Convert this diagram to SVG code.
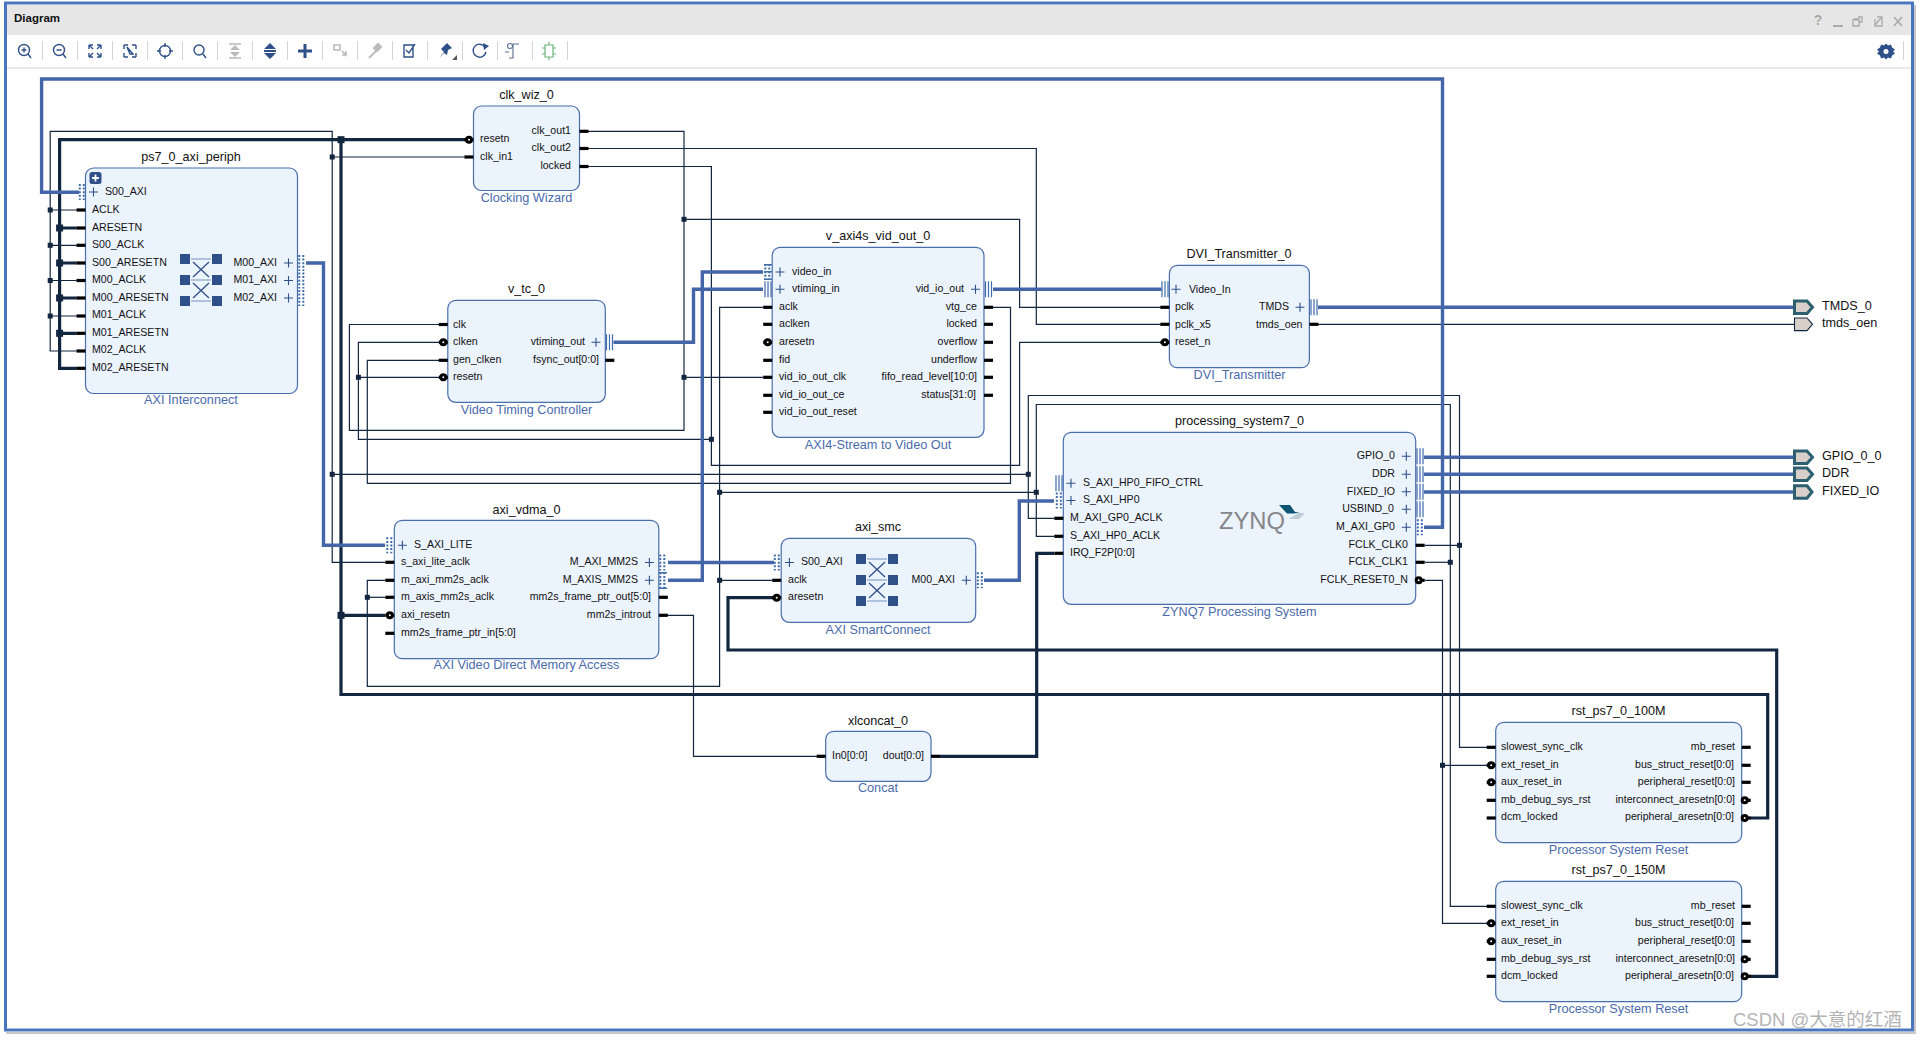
<svg xmlns="http://www.w3.org/2000/svg" width="1920" height="1040" viewBox="0 0 1920 1040">
<style>
text{font-family:"Liberation Sans",Arial,sans-serif;fill:#111;transform:translateY(-0.6px)}
.l{font-size:10.6px}
.r{font-size:10.6px;text-anchor:end}
.t{font-size:12.6px;text-anchor:middle}
.s{font-size:12.7px;text-anchor:middle;fill:#4a6bad}
.e{font-size:12.6px}
.blk{fill:#ebf3fd;stroke:#4a6eac;stroke-width:1.2}
.w{fill:none;stroke:#12263f;stroke-width:1.2}
.k{fill:none;stroke:#12263f;stroke-width:3.2}
.b{fill:none;stroke:#4465a8;stroke-width:3.4}
.j{fill:#12263f}
.x{fill:#2f5089}
.xl{fill:none;stroke:#2f5089;stroke-width:1.3}
.xb{fill:none;stroke:#9db4d4;stroke-width:1.3}
.ic{fill:none;stroke:#2f5089;stroke-width:1.4}
.ig{fill:none;stroke:#bbb;stroke-width:1.6}
.sep{stroke:#d4d4d4;stroke-width:1}
.tm{fill:#d8d0c8;stroke:#2c5f70;stroke-width:3}
.tn{fill:#d8d0c8;stroke:#12263f;stroke-width:1.1}
</style>
<defs>
<rect id="pl" x="-9" y="-1.6" width="9" height="3.2" fill="#000"/>
<rect id="pr" x="0" y="-1.6" width="9" height="3.2" fill="#000"/>
<g id="bl"><rect x="-9" y="-1.6" width="9" height="3.2" fill="#000"/><circle cx="-4.5" cy="0" r="4" fill="#000"/><circle cx="-4.5" cy="0" r="1" fill="#fff"/></g>
<g id="br"><rect x="0" y="-1.6" width="9" height="3.2" fill="#000"/><circle cx="3" cy="0" r="4" fill="#000"/><circle cx="3" cy="0" r="1" fill="#fff"/></g>
<path id="plus" d="M-4.5 0H4.5M0-4.5V4.5" fill="none" stroke="#2f5089" stroke-width="1.1"/>
<path id="ms" d="M0-8V8M3-8V8M6-8V8" fill="none" stroke="#3f6cab" stroke-width="1.2"/>
<path id="md" d="M0.8-8V8M4.8-8V8" fill="none" stroke="#3f6cab" stroke-width="2" stroke-dasharray="2 1.6"/>
<rect id="js" x="-2.5" y="-2.5" width="5" height="5" class="j"/>
<rect id="jk" x="-3.5" y="-3.5" width="7" height="7" class="j"/>
<g id="xbar">
<rect x="0" y="0" width="10" height="10" class="x"/><rect x="32" y="0" width="10" height="10" class="x"/>
<rect x="0" y="21" width="10" height="10" class="x"/><rect x="32" y="21" width="10" height="10" class="x"/>
<rect x="0" y="42" width="10" height="10" class="x"/><rect x="32" y="42" width="10" height="10" class="x"/>
<path d="M11 5H31M11 26H31M11 47H31" class="xb"/>
<path d="M13 8L29 23M29 8L13 23M13 29L29 44M29 29L13 44" class="xl"/>
</g>
</defs>

<rect x="0" y="0" width="1920" height="1040" fill="#fff"/>
<rect x="5.5" y="3" width="1907" height="1027" fill="#fff" stroke="#4a76c0" stroke-width="3"/>
<path d="M1915 5V1033H6" fill="none" stroke="#c8c8c8" stroke-width="2"/>
<rect x="7" y="5" width="1904" height="30" fill="#e6e6e6"/>
<rect x="7" y="67" width="1904" height="2" fill="#e8e8e8"/>
<text x="14" y="23" style="font-size:11.5px;font-weight:700">Diagram</text>

<g id="titlebar-icons">
<text x="1818" y="26" style="font-size:14px;font-weight:700;fill:#aaa;text-anchor:middle">?</text>
<path d="M1833 26H1843" fill="none" stroke="#aaa" stroke-width="2"/>
<path d="M1854 19H1859V24M1858 17H1862V22H1859M1853 19.500V26H1859V20Z" fill="none" stroke="#aaa" stroke-width="1.3"/>
<path d="M1875 19V26H1882V17H1877M1875 25L1881 18" fill="none" stroke="#aaa" stroke-width="1.3"/>
<path d="M1894 17L1902 26M1902 17L1894 26" fill="none" stroke="#aaa" stroke-width="1.6"/>
</g>
<g id="toolbar">
<path class="sep" d="M42.500 41V60M77.500 41V60M112.500 41V60M147.500 41V60M182.500 41V60M217.500 41V60M252.500 41V60M287.500 41V60M322.500 41V60M357.500 41V60M392.500 41V60M427.500 41V60M462.500 41V60M497.500 41V60M532.500 41V60M567.500 41V60M1903.500 41V60"/>
<circle cx="24" cy="50" r="5.5" class="ic"/><path class="ic" d="M28 54L31 58M21.500 50H26.500M24 47.500V52.500"/>
<circle cx="59" cy="50" r="5.500" class="ic"/><path class="ic" d="M63 54L66 58M56.500 50H61.500"/>
<path class="ic" d="M89 45H93M89 45V49M101 45H97M101 45V49M89 57H93M89 57V53M101 57H97M101 57V53M90 46L93 49M100 46L97 49M90 56L93 53M100 56L97 53"/>
<path class="ic" d="M124 45H128M124 45V49M136 45H132M136 45V49M124 57H128M124 57V53M136 57H132M136 57V53M127 47L133 54L130 54Z"/>
<circle cx="165" cy="51" r="5.5" class="ic"/><path class="ic" d="M165 43V47M165 55V59M157 51H161M169 51H173"/>
<circle cx="199" cy="50" r="5" class="ic" stroke-width="2"/><path class="ic" d="M203 54L206 58" stroke-width="2"/>
<path class="ig" d="M229 44H241M229 58H241"/><path d="M235 45L240 50H230ZM235 57L240 52H230Z" fill="#bbb"/>
<path d="M270 43L276 49H264ZM270 59L276 53H264Z" class="x"/><rect x="264" y="50" width="12" height="2" class="x"/>
<path d="M305 44V58M298 51H312" fill="none" stroke="#2f5089" stroke-width="3"/>
<path class="ig" d="M334 45H340V50H334ZM342 51L346 55V51M342 55H346"/>
<path d="M369 58L376 51M374 48L378 44L381 47L377 51Z" fill="#bbb" stroke="#bbb" stroke-width="2"/>
<path class="ic" d="M404 45H413V57H404ZM406 50L409 53L415 44" stroke-width="1.8"/>
<path d="M439 58L444 52L441 49L447 43L452 48L448 50L447 55L444 53Z" class="x"/><path d="M452 60H457V55Z" fill="#555"/>
<path class="ic" d="M485 47A6.500 6.500 0 1 0 486 52" stroke-width="2"/><path d="M483 43L489 46L484 50Z" class="x"/>
<circle cx="510" cy="46" r="2.500" fill="none" stroke="#5a6f90" stroke-width="1.1"/><path fill="none" stroke="#5a6f90" stroke-width="1.1" d="M509 58H513V44H519M505 52H509"/>
<path d="M545 45H553V57H545ZM549 42V45M549 57V60M542 48H545M542 54H545M553 48H556M553 54H556" fill="none" stroke="#6cb47a" stroke-width="1.2"/>
<path d="M1886 44L1888 46L1891 45L1892 48L1895 50L1893 52L1895 54L1892 56L1891 59L1888 58L1886 60L1884 58L1881 59L1880 56L1877 54L1879 52L1877 50L1880 48L1881 45L1884 46Z" class="x" transform="translate(0,-0.500)"/><circle cx="1886" cy="51.500" r="2.500" fill="#fff"/>
</g>

<g id="connectors">
<path class="w" d="M588 131.300H684V430.300H349.400V324.500H439"/>
<path class="w" d="M684 219.300H1019.600V307.300H1161"/>
<path class="w" d="M684 377.300H763"/>
<path class="w" d="M588 148.500H1036.300V324.300H1161"/>
<path class="w" d="M588 166.500H711.400V465.300H1019.600V342.300H1161"/>
<path class="w" d="M711.400 439.300H358.400V342.300H439"/>
<path class="w" d="M358.400 377.300H439"/>
<path class="w" d="M993 307.300H1010.500V483.300H367.300V360.300H439"/>
<path class="w" d="M76.700 351H50.200V131.300H332.200V562.300H385"/>
<path class="w" d="M50.200 210H76.700M50.200 245.300H76.700M50.200 280.500H76.700M50.200 316H76.700"/>
<path class="w" d="M332.200 157H465"/>
<path class="w" d="M332.200 474.300H1028.300"/>
<path class="w" d="M1054 518.300H1028.300V395.500H1459.500V747.300H1487"/>
<path class="w" d="M1425 545.300H1459.500"/>
<path class="w" d="M1054 536.300H1036.300V404.500H1450.300V906.300H1487"/>
<path class="w" d="M1425 562.300H1450.300"/>
<path class="w" d="M1036.300 492.300H719.600"/>
<path class="w" d="M763 307.300H719.600V686.300H367.300V580.300H385"/>
<path class="w" d="M719.600 580.300H772"/>
<path class="w" d="M367.300 597.300H385"/>
<path class="w" d="M667 615.300H693.500V756.300H817"/>
<path class="w" d="M1425 580.300H1442.500V923.300H1487"/>
<path class="w" d="M1442.500 765.300H1487"/>
<path class="w" d="M1318 324.300H1794"/>
<path class="k" d="M1750 818H1767.700V694.500H341V139.700H466"/>
<path class="k" d="M341 139.700H59.600V368.300H76.700"/>
<path class="k" d="M59.600 228H76.700M59.600 263H76.700M59.600 298H76.700M59.600 333.300H76.700"/>
<path class="k" d="M341 615.300H385"/>
<path class="k" d="M1750 976.300H1776.700V650H728V597.700H773"/>
<path class="k" d="M940 756.300H1036.700V553.300H1054"/>
<path class="b" d="M1424 527.300H1442.500V79H41.600V192.300H79"/>
<path class="b" d="M306 263H323.500V545.300H385"/>
<path class="b" d="M613.500 342.300H693.500V289.300H763"/>
<path class="b" d="M668 580.300H702.300V272H763"/>
<path class="b" d="M668 562.500H774"/>
<path class="b" d="M993 289.300H1161.600"/>
<path class="b" d="M984 580.300H1019.300V501H1054"/>
<path class="b" d="M1318 307.300H1793"/>
<path class="b" d="M1424 457.300H1793"/>
<path class="b" d="M1424 474.300H1793"/>
<path class="b" d="M1424 492H1793"/>
<use href="#js" x="684" y="219.300"/><use href="#js" x="684" y="377.300"/>
<use href="#js" x="711.400" y="439.300"/><use href="#js" x="358.400" y="377.300"/>
<use href="#js" x="50.200" y="210"/><use href="#js" x="50.200" y="245.300"/><use href="#js" x="50.200" y="280.500"/><use href="#js" x="50.200" y="316"/>
<use href="#js" x="332.200" y="157"/><use href="#js" x="332.200" y="474.300"/>
<use href="#js" x="1028.300" y="474.300"/><use href="#js" x="1036.300" y="492.300"/>
<use href="#js" x="719.600" y="492.300"/><use href="#js" x="719.600" y="580.300"/><use href="#js" x="367.300" y="597.300"/>
<use href="#js" x="1459.500" y="545.300"/><use href="#js" x="1450.300" y="562.300"/><use href="#js" x="1442.500" y="765.300"/>
<use href="#jk" x="341" y="139.700"/><use href="#jk" x="59.600" y="228"/><use href="#jk" x="59.600" y="263"/><use href="#jk" x="59.600" y="298"/><use href="#jk" x="59.600" y="333.300"/><use href="#jk" x="341" y="615.300"/>
</g>

<g id="ps7_0_axi_periph">
<rect class="blk" x="85.500" y="168" width="212" height="225.500" rx="8"/>
<text class="t" x="191" y="162">ps7_0_axi_periph</text>
<text class="s" x="191" y="404.500">AXI Interconnect</text>
<rect x="89.500" y="172" width="12" height="12" rx="2.500" fill="#2f5089"/><path d="M95.500 174.500V181.500M92 178H99" stroke="#fff" stroke-width="1.800"/>
<use href="#md" x="79" y="192"/><use href="#plus" x="93.500" y="192"/>
<use href="#pl" x="85.500" y="210"/><use href="#pl" x="85.500" y="228"/><use href="#pl" x="85.500" y="245.300"/><use href="#pl" x="85.500" y="263"/><use href="#pl" x="85.500" y="280.500"/><use href="#pl" x="85.500" y="298"/><use href="#pl" x="85.500" y="316"/><use href="#pl" x="85.500" y="333.300"/><use href="#pl" x="85.500" y="351"/><use href="#pl" x="85.500" y="368.300"/>
<text class="l" x="105" y="196">S00_AXI</text>
<text class="l" x="92" y="214">ACLK</text>
<text class="l" x="92" y="231.500">ARESETN</text>
<text class="l" x="92" y="249">S00_ACLK</text>
<text class="l" x="92" y="266.500">S00_ARESETN</text>
<text class="l" x="92" y="284">M00_ACLK</text>
<text class="l" x="92" y="302">M00_ARESETN</text>
<text class="l" x="92" y="319">M01_ACLK</text>
<text class="l" x="92" y="337">M01_ARESETN</text>
<text class="l" x="92" y="354">M02_ACLK</text>
<text class="l" x="92" y="372">M02_ARESETN</text>
<use href="#xbar" x="180" y="254"/>
<text class="r" x="277" y="266.500">M00_AXI</text>
<text class="r" x="277" y="284">M01_AXI</text>
<text class="r" x="277" y="302">M02_AXI</text>
<use href="#plus" x="288.500" y="263"/><use href="#plus" x="288.500" y="280.500"/><use href="#plus" x="288.500" y="298"/>
<use href="#md" x="298.500" y="263"/><use href="#md" x="298.500" y="280.500"/><use href="#md" x="298.500" y="298"/>
</g>

<g id="clk_wiz_0">
<rect class="blk" x="473.500" y="106" width="106" height="84.500" rx="8"/>
<text class="t" x="526.500" y="100">clk_wiz_0</text>
<text class="s" x="526.500" y="203">Clocking Wizard</text>
<use href="#bl" x="473.500" y="139.700"/><use href="#pl" x="473.500" y="157"/>
<use href="#pr" x="579.500" y="131.300"/><use href="#pr" x="579.500" y="148.500"/><use href="#pr" x="579.500" y="166.500"/>
<text class="l" x="480" y="143">resetn</text>
<text class="l" x="480" y="161">clk_in1</text>
<text class="r" x="571" y="134.500">clk_out1</text>
<text class="r" x="571" y="152">clk_out2</text>
<text class="r" x="571" y="170">locked</text>
</g>

<g id="v_tc_0">
<rect class="blk" x="447.800" y="300.300" width="157.500" height="102" rx="8"/>
<text class="t" x="526.500" y="294">v_tc_0</text>
<text class="s" x="526.500" y="414.500">Video Timing Controller</text>
<use href="#pl" x="447.800" y="324.500"/><use href="#bl" x="447.800" y="342.300"/><use href="#pl" x="447.800" y="360.300"/><use href="#bl" x="447.800" y="377.300"/>
<text class="l" x="453" y="329">clk</text>
<text class="l" x="453" y="346">clken</text>
<text class="l" x="453" y="364">gen_clken</text>
<text class="l" x="453" y="381">resetn</text>
<text class="r" x="585" y="346">vtiming_out</text>
<text class="r" x="599" y="364">fsync_out[0:0]</text>
<use href="#plus" x="596" y="342.300"/>
<use href="#ms" x="606.500" y="342.300"/>
<use href="#pr" x="605.300" y="360.300"/>
</g>

<g id="v_axi4s_vid_out_0">
<rect class="blk" x="772.200" y="247.300" width="211.800" height="190" rx="8"/>
<text class="t" x="878" y="241">v_axi4s_vid_out_0</text>
<text class="s" x="878" y="450">AXI4-Stream to Video Out</text>
<use href="#md" x="764.500" y="272"/><rect x="764" y="264" width="8" height="1.500" fill="#3f6cab"/><rect x="764" y="271" width="8" height="1.500" fill="#3f6cab"/><rect x="764" y="278.500" width="8" height="1.500" fill="#3f6cab"/>
<use href="#ms" x="765" y="289.300"/>
<use href="#plus" x="780" y="272"/><use href="#plus" x="780" y="289.300"/>
<use href="#pl" x="772.200" y="307.300"/><use href="#pl" x="772.200" y="324.300"/><use href="#bl" x="772.200" y="342.300"/><use href="#pl" x="772.200" y="360.300"/><use href="#pl" x="772.200" y="377.300"/><use href="#pl" x="772.200" y="395.300"/><use href="#pl" x="772.200" y="412.300"/>
<text class="l" x="792" y="276">video_in</text>
<text class="l" x="792" y="293">vtiming_in</text>
<text class="l" x="779" y="311">aclk</text>
<text class="l" x="779" y="328">aclken</text>
<text class="l" x="779" y="346">aresetn</text>
<text class="l" x="779" y="364">fid</text>
<text class="l" x="779" y="381">vid_io_out_clk</text>
<text class="l" x="779" y="399">vid_io_out_ce</text>
<text class="l" x="779" y="416">vid_io_out_reset</text>
<text class="r" x="964" y="293">vid_io_out</text>
<text class="r" x="977" y="311">vtg_ce</text>
<text class="r" x="977" y="328">locked</text>
<text class="r" x="977" y="346">overflow</text>
<text class="r" x="977" y="364">underflow</text>
<text class="r" x="977" y="381">fifo_read_level[10:0]</text>
<text class="r" x="976" y="399">status[31:0]</text>
<use href="#plus" x="975.500" y="289.300"/>
<use href="#ms" x="985.500" y="289.300"/>
<use href="#pr" x="984" y="307.300"/><use href="#pr" x="984" y="324.300"/><use href="#pr" x="984" y="342.300"/><use href="#pr" x="984" y="360.300"/><use href="#pr" x="984" y="377.300"/><use href="#pr" x="984" y="395.300"/>
</g>

<g id="DVI_Transmitter_0">
<rect class="blk" x="1169.400" y="265.300" width="140" height="102.400" rx="8"/>
<text class="t" x="1239" y="259">DVI_Transmitter_0</text>
<text class="s" x="1239.500" y="379.500">DVI_Transmitter</text>
<use href="#ms" x="1162" y="289.300"/><use href="#plus" x="1176" y="289.300"/>
<use href="#pl" x="1169.400" y="307.300"/><use href="#pl" x="1169.400" y="324.300"/><use href="#bl" x="1169.400" y="342.300"/>
<text class="l" x="1189" y="294">Video_In</text>
<text class="l" x="1175" y="311">pclk</text>
<text class="l" x="1175" y="329">pclk_x5</text>
<text class="l" x="1175" y="346">reset_n</text>
<text class="r" x="1289" y="311">TMDS</text>
<text class="r" x="1302.500" y="329">tmds_oen</text>
<use href="#plus" x="1300" y="307.300"/>
<use href="#ms" x="1311" y="307.300"/>
<use href="#pr" x="1309.400" y="324.300"/>
</g>

<g id="processing_system7_0">
<rect class="blk" x="1063.300" y="432.300" width="352.400" height="172" rx="8"/>
<text class="t" x="1239.500" y="426">processing_system7_0</text>
<text class="s" x="1239.500" y="617">ZYNQ7 Processing System</text>
<use href="#ms" x="1056" y="483.300"/><use href="#md" x="1056" y="500.500"/>
<use href="#plus" x="1071" y="483.300"/><use href="#plus" x="1071" y="500.500"/>
<use href="#pl" x="1063.300" y="518.300"/><use href="#pl" x="1063.300" y="536.300"/><use href="#pl" x="1063.300" y="553.300"/>
<text class="l" x="1083" y="487">S_AXI_HP0_FIFO_CTRL</text>
<text class="l" x="1083" y="504">S_AXI_HP0</text>
<text class="l" x="1070" y="522">M_AXI_GP0_ACLK</text>
<text class="l" x="1070" y="540">S_AXI_HP0_ACLK</text>
<text class="l" x="1070" y="557">IRQ_F2P[0:0]</text>
<text class="r" x="1395" y="460">GPIO_0</text>
<text class="r" x="1395" y="478">DDR</text>
<text class="r" x="1395" y="495.500">FIXED_IO</text>
<text class="r" x="1394" y="513">USBIND_0</text>
<text class="r" x="1395" y="531">M_AXI_GP0</text>
<text class="r" x="1408" y="548.500">FCLK_CLK0</text>
<text class="r" x="1408" y="566">FCLK_CLK1</text>
<text class="r" x="1408" y="584">FCLK_RESET0_N</text>
<use href="#plus" x="1406.300" y="456.300"/><use href="#plus" x="1406.300" y="474.300"/><use href="#plus" x="1406.300" y="491.700"/><use href="#plus" x="1406.300" y="509.300"/><use href="#plus" x="1406.300" y="527.300"/>
<use href="#ms" x="1417" y="456.300"/><use href="#ms" x="1417" y="474.300"/><use href="#ms" x="1417" y="491.700"/><use href="#ms" x="1417" y="509.300"/><use href="#md" x="1417" y="527.300"/>
<use href="#pr" x="1415.700" y="545.300"/><use href="#pr" x="1415.700" y="562.300"/><use href="#br" x="1415.700" y="580.300"/>
<text x="1219" y="530" style="font-size:24px;fill:#85868a" textLength="66" lengthAdjust="spacingAndGlyphs">ZYNQ</text>
<path d="M1279 505L1290 505L1295 512L1300 512L1294 513.500L1287 513.500Z" fill="#0c5572"/>
<path d="M1289 519L1298 513L1305 513L1299 519L1298 519L1295 519Z" fill="#c0ccd3"/>
</g>

<g id="axi_vdma_0">
<rect class="blk" x="394.300" y="520.300" width="264.500" height="138.400" rx="8"/>
<text class="t" x="526.500" y="515">axi_vdma_0</text>
<text class="s" x="526.500" y="670">AXI Video Direct Memory Access</text>
<use href="#md" x="386.500" y="545.300"/><use href="#plus" x="402.400" y="545.300"/>
<use href="#pl" x="394.300" y="562.300"/><use href="#pl" x="394.300" y="580.300"/><use href="#pl" x="394.300" y="597.300"/><use href="#bl" x="394.300" y="615.300"/><use href="#pl" x="394.300" y="633.300"/>
<text class="l" x="414" y="549">S_AXI_LITE</text>
<text class="l" x="401" y="566">s_axi_lite_aclk</text>
<text class="l" x="401" y="584">m_axi_mm2s_aclk</text>
<text class="l" x="401" y="601">m_axis_mm2s_aclk</text>
<text class="l" x="401" y="619">axi_resetn</text>
<text class="l" x="401" y="637">mm2s_frame_ptr_in[5:0]</text>
<text class="r" x="638" y="566">M_AXI_MM2S</text>
<text class="r" x="638" y="584">M_AXIS_MM2S</text>
<text class="r" x="651" y="601">mm2s_frame_ptr_out[5:0]</text>
<text class="r" x="651" y="619">mm2s_introut</text>
<use href="#plus" x="649.400" y="562.500"/><use href="#plus" x="649.400" y="580.300"/>
<use href="#md" x="659.500" y="562.500"/><use href="#md" x="659.500" y="580.300"/><rect x="659" y="572" width="8" height="1.500" fill="#3f6cab"/><rect x="659" y="587.500" width="8" height="1.500" fill="#3f6cab"/>
<use href="#pr" x="658.800" y="597.300"/><use href="#pr" x="658.800" y="615.300"/>
</g>

<g id="axi_smc">
<rect class="blk" x="781.200" y="538.300" width="194.500" height="84" rx="8"/>
<text class="t" x="878" y="532">axi_smc</text>
<text class="s" x="878" y="635">AXI SmartConnect</text>
<use href="#md" x="774" y="562.500"/><use href="#plus" x="789.400" y="562.500"/>
<use href="#pl" x="781.200" y="580.300"/><use href="#bl" x="781.200" y="597.700"/>
<text class="l" x="801" y="566">S00_AXI</text>
<text class="l" x="788" y="584">aclk</text>
<text class="l" x="788" y="601">aresetn</text>
<use href="#xbar" x="856" y="554"/>
<text class="r" x="955" y="584">M00_AXI</text>
<use href="#plus" x="966.300" y="580.300"/>
<use href="#md" x="977" y="580.300"/>
</g>

<g id="xlconcat_0">
<rect class="blk" x="825.700" y="731.300" width="105.300" height="50" rx="8"/>
<text class="t" x="878" y="726">xlconcat_0</text>
<text class="s" x="878" y="793">Concat</text>
<use href="#pl" x="825.700" y="756.300"/><use href="#pr" x="931" y="756.300"/>
<text class="l" x="832" y="760">In0[0:0]</text>
<text class="r" x="924" y="760">dout[0:0]</text>
</g>

<g id="rst_ps7_0_100M">
<rect class="blk" x="1495.700" y="722.300" width="246" height="120.400" rx="8"/>
<text class="t" x="1618.500" y="716">rst_ps7_0_100M</text>
<text class="s" x="1618.500" y="855">Processor System Reset</text>
<use href="#pl" x="1495.700" y="747.300"/><use href="#bl" x="1495.700" y="765.300"/><use href="#bl" x="1495.700" y="782.300"/><use href="#pl" x="1495.700" y="800.300"/><use href="#pl" x="1495.700" y="818"/>
<use href="#pr" x="1741.700" y="747.300"/><use href="#pr" x="1741.700" y="765.300"/><use href="#pr" x="1741.700" y="782.300"/><use href="#br" x="1741.700" y="800.300"/><use href="#br" x="1741.700" y="818"/>
<text class="l" x="1501" y="751">slowest_sync_clk</text>
<text class="l" x="1501" y="768.500">ext_reset_in</text>
<text class="l" x="1501" y="786">aux_reset_in</text>
<text class="l" x="1501" y="804">mb_debug_sys_rst</text>
<text class="l" x="1501" y="821">dcm_locked</text>
<text class="r" x="1735" y="751">mb_reset</text>
<text class="r" x="1734" y="768.500">bus_struct_reset[0:0]</text>
<text class="r" x="1735" y="786">peripheral_reset[0:0]</text>
<text class="r" x="1735" y="804">interconnect_aresetn[0:0]</text>
<text class="r" x="1734" y="821">peripheral_aresetn[0:0]</text>
</g>

<g id="rst_ps7_0_150M">
<rect class="blk" x="1495.700" y="881.300" width="246" height="120.400" rx="8"/>
<text class="t" x="1618.500" y="875">rst_ps7_0_150M</text>
<text class="s" x="1618.500" y="1014">Processor System Reset</text>
<use href="#pl" x="1495.700" y="906.300"/><use href="#bl" x="1495.700" y="923.300"/><use href="#bl" x="1495.700" y="941.300"/><use href="#pl" x="1495.700" y="959.300"/><use href="#pl" x="1495.700" y="976.300"/>
<use href="#pr" x="1741.700" y="906.300"/><use href="#pr" x="1741.700" y="923.300"/><use href="#pr" x="1741.700" y="941.300"/><use href="#br" x="1741.700" y="959.300"/><use href="#br" x="1741.700" y="976.300"/>
<text class="l" x="1501" y="910">slowest_sync_clk</text>
<text class="l" x="1501" y="927">ext_reset_in</text>
<text class="l" x="1501" y="945">aux_reset_in</text>
<text class="l" x="1501" y="963">mb_debug_sys_rst</text>
<text class="l" x="1501" y="980">dcm_locked</text>
<text class="r" x="1735" y="910">mb_reset</text>
<text class="r" x="1734" y="927">bus_struct_reset[0:0]</text>
<text class="r" x="1735" y="945">peripheral_reset[0:0]</text>
<text class="r" x="1735" y="963">interconnect_aresetn[0:0]</text>
<text class="r" x="1734" y="980">peripheral_aresetn[0:0]</text>
</g>

<g id="TMDS_0"><path class="tm" d="M1794.500 301H1807L1812.500 307.300L1807 313.600H1794.500Z"/><text class="e" x="1822" y="311">TMDS_0</text></g>
<g id="tmds_oen"><path class="tn" d="M1794.500 318H1807L1812.500 324.300L1807 330.600H1794.500Z"/><text class="e" x="1822" y="328">tmds_oen</text></g>
<g id="GPIO_0_0"><path class="tm" d="M1794.500 451H1807L1812.500 457.300L1807 463.600H1794.500Z"/><text class="e" x="1822" y="461">GPIO_0_0</text></g>
<g id="DDR"><path class="tm" d="M1794.500 468H1807L1812.500 474.300L1807 480.600H1794.500Z"/><text class="e" x="1822" y="478">DDR</text></g>
<g id="FIXED_IO"><path class="tm" d="M1794.500 485.700H1807L1812 492L1807 498.300H1794.500Z"/><text class="e" x="1822" y="496">FIXED_IO</text></g>

<text x="1733" y="1027" style="font-size:18.500px;fill:#b4b4b4;font-family:'Liberation Sans','Noto Sans CJK SC',sans-serif">CSDN @大意的红酒</text>
</svg>
